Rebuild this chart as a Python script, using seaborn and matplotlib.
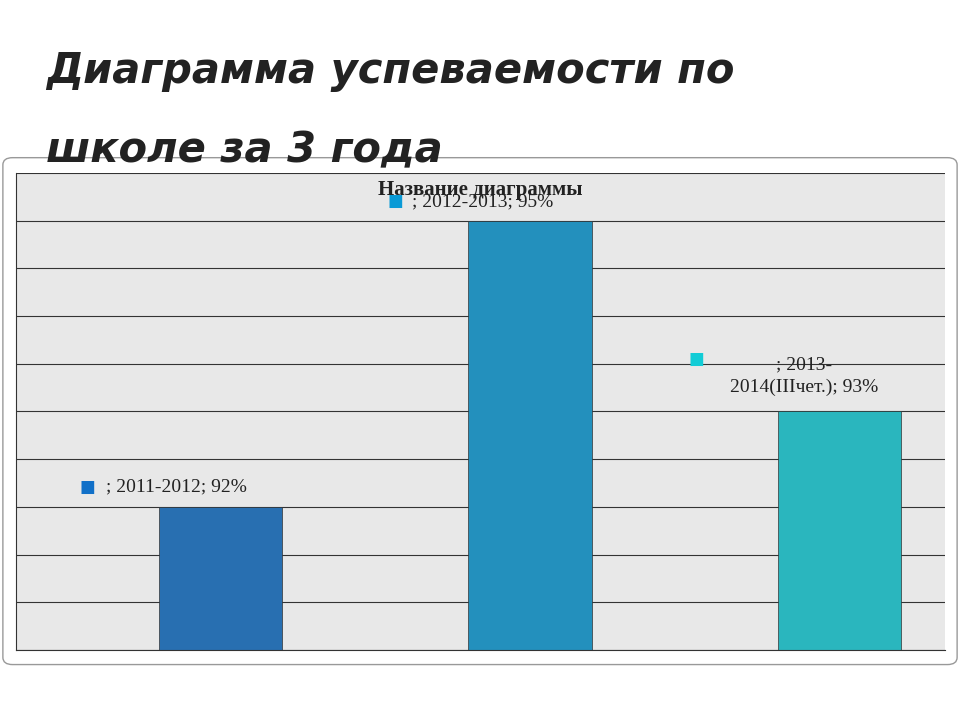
import matplotlib
matplotlib.use("Agg")
import matplotlib.pyplot as plt
import seaborn as sns
import pandas as pd
from matplotlib.patches import FancyBboxPatch

categories = ["2011-2012", "2012-2013", "2013-2014(IIIчет.)"]
values = [92, 95, 93]
labels = ["; 2011-2012; 92%", "; 2012-2013; 95%", "; 2013-\n2014(IIIчет.); 93%"]
colors = ["#1170c8", "#0a9ad6", "#12ccd6"]

sns.set_style("white")
plt.rcParams['font.family'] = ['DejaVu Sans']
fig = plt.figure(figsize=(9.6, 7.2), dpi=100)
fig.patch.set_facecolor("white")

fig.text(0.048, 0.885, "Диаграмма успеваемости по", fontsize=30, style="italic",
         fontweight="bold", color="#222222")
fig.text(0.048, 0.775, "школе за 3 года", fontsize=30, style="italic",
         fontweight="bold", color="#222222")

box = FancyBboxPatch((0.003, 0.077), 0.994, 0.704, boxstyle="round,pad=0,rounding_size=0.01",
                     transform=fig.transFigure, facecolor="white", edgecolor="#999999", lw=1,
                     zorder=-5)
fig.patches.append(box)

ax = fig.add_axes([0.017, 0.097, 0.967, 0.663])
ax.set_facecolor("#e8e8e8")
df = pd.DataFrame({"cat": categories, "val": values})
sns.barplot(data=df, x="cat", y="val", hue="cat", palette=colors, ax=ax,
            width=0.4, legend=False, edgecolor="#333333", linewidth=0.5)
ax.set_ylim(90.5, 95.5)
ax.set_yticks([90.5 + 0.5 * i for i in range(11)])
ax.grid(axis="y", color="#333333", lw=0.8)
ax.set_axisbelow(True)
ax.set_xticklabels([]); ax.set_yticklabels([])
ax.tick_params(length=0)
ax.set_xlabel(""); ax.set_ylabel("")
for s in ax.spines.values():
    s.set_visible(False)
ax.spines["left"].set_visible(True); ax.spines["left"].set_color("#333333")
ax.spines["bottom"].set_visible(True); ax.spines["bottom"].set_color("#333333")
ax.set_title("Название диаграммы", fontsize=15, fontweight="bold", family="Liberation Serif",
             y=0.935, color="#222222")

# label positions (marker x, text x, y)
marker_pos = [(-0.43, 92.21), (0.566, 95.2), (1.537, 93.55)]
text_pos = [(-0.37, 92.21, "left"), (0.62, 95.2, "left"), (1.885, 93.37, "center")]
for i in range(3):
    mx, my = marker_pos[i]
    ax.text(mx, my, "■", color=colors[i], fontsize=12, ha="center", va="center")
    tx, ty, ha = text_pos[i]
    ax.text(tx, ty, labels[i], fontsize=14, family="Liberation Serif", ha=ha,
            va="center", color="#222222", linespacing=1.4)
ax.set_xlim(-0.66, 2.34)
fig.savefig("out.png", dpi=100)
